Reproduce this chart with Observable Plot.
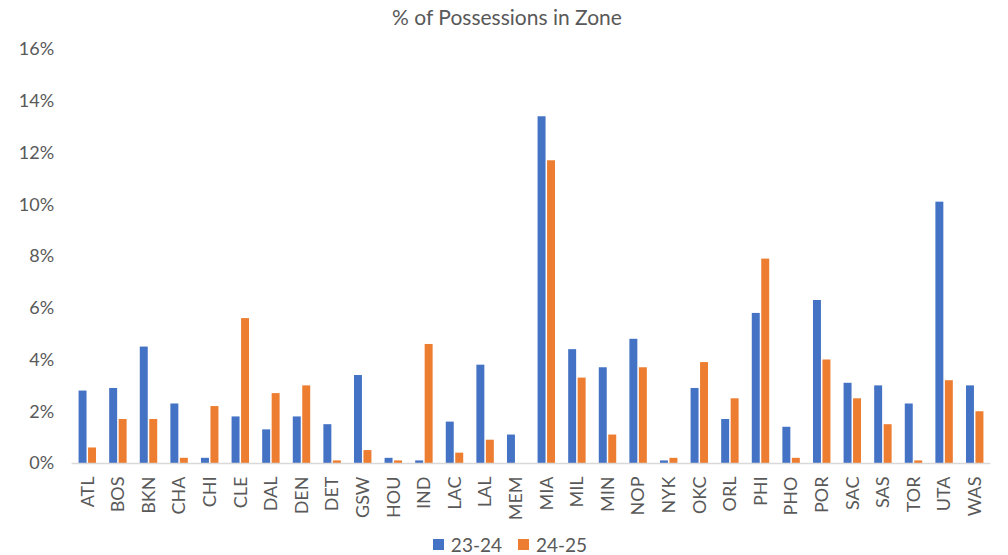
<!DOCTYPE html>
<html><head><meta charset="utf-8">
<script src="https://cdn.jsdelivr.net/npm/d3@7"></script>
<script src="https://cdn.jsdelivr.net/npm/@observablehq/plot@0.6"></script>
<style>
body{margin:0;background:#fff;font-family:Lato,"Open Sans",sans-serif;}
#wrap{width:1008px;height:555px;position:relative;overflow:hidden;}
#title{height:34px;line-height:34px;text-align:center;font-size:21px;color:#595959;padding-left:6px;}
#legend{position:absolute;top:533px;left:0;width:1008px;display:flex;justify-content:center;align-items:center;font-size:19px;color:#595959;padding-left:12px;box-sizing:border-box;}
.item{display:flex;align-items:center;margin:0 8px;}
.sw{width:11px;height:11px;margin-right:7px;}
</style></head>
<body>
<div id="wrap">
<div id="title">% of Possessions in Zone</div>
<div id="chart"></div>
<div id="legend"></div>
</div>
<script>
const teams = ["ATL","BOS","BKN","CHA","CHI","CLE","DAL","DEN","DET","GSW","HOU","IND","LAC","LAL","MEM","MIA","MIL","MIN","NOP","NYK","OKC","ORL","PHI","PHO","POR","SAC","SAS","TOR","UTA","WAS"];
const v2324 = [2.8,2.9,4.5,2.3,0.2,1.8,1.3,1.8,1.5,3.4,0.2,0.1,1.6,3.8,1.1,13.4,4.4,3.7,4.8,0.1,2.9,1.7,5.8,1.4,6.3,3.1,3.0,2.3,10.1,3.0];
const v2425 = [0.6,1.7,1.7,0.2,2.2,5.6,2.7,3.0,0.1,0.5,0.1,4.6,0.4,0.9,0.0,11.7,3.3,1.1,3.7,0.2,3.9,2.5,7.9,0.2,4.0,2.5,1.5,0.1,3.2,2.0];
const seasons = ["23-24","24-25"];
const colors = ["#4472C4","#ED7D31"];
const yTicks = [0,2,4,6,8,10,12,14,16];

const data = teams.flatMap((t,i)=>[
  {team:t, season:seasons[0], value:v2324[i]},
  {team:t, season:seasons[1], value:v2425[i]}
]);

const chart = Plot.plot({
  width:1008, height:496,
  marginTop:15, marginLeft:72, marginRight:18, marginBottom:67,
  style:{fontFamily:"Lato, 'Open Sans', sans-serif", fontSize:"18px", color:"#595959", background:"#fff", overflow:"visible"},
  fx:{domain:teams, round:false, paddingInner:0.43, paddingOuter:0.215, label:null},
  x:{domain:seasons, round:false, paddingInner:0.16, paddingOuter:0, axis:null},
  y:{domain:[0,16], label:null},
  color:{domain:seasons, range:colors},
  marks:[
    Plot.axisY({ticks:yTicks, tickSize:0, tickPadding:25, tickFormat:d=>d+"%", label:null, fontSize:18}),
    Plot.axisFx({anchor:"bottom", tickSize:0, tickRotate:-90, tickPadding:13, label:null, fontSize:18}),
    Plot.barY(data,{fx:"team", x:"season", y:"value", fill:"season"}),
    Plot.ruleY([0],{stroke:"#D9D9D9", strokeWidth:1.5, insetLeft:-7, insetRight:-7})
  ]
});
document.getElementById("chart").appendChild(chart);

const legend = document.getElementById("legend");
seasons.forEach((s,i)=>{
  const it = document.createElement("div"); it.className="item";
  const sw = document.createElement("div"); sw.className="sw"; sw.style.background=colors[i];
  const tx = document.createElement("span"); tx.textContent=s;
  it.appendChild(sw); it.appendChild(tx); legend.appendChild(it);
});
</script>
</body></html>
